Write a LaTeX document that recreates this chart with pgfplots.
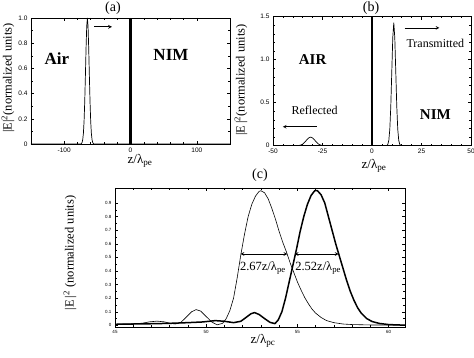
\documentclass[border=0pt]{standalone}
\usepackage{fontspec}
\setmainfont{Liberation Serif}
\newfontfamily\tickfont{Liberation Sans}
\usepackage{pgfplots}
\pgfplotsset{compat=1.18}
\begin{document}
\begin{tikzpicture}
\useasboundingbox (0pt,0pt) rectangle (474pt,-358pt);
\pgfplotsset{
  every axis/.append style={scale only axis, clip mode=individual,
    axis line style={line width=0.9pt},
    every tick/.style={black, line width=0.5pt},
    major tick length=3pt, minor tick length=1.8pt,
    /pgf/number format/assume math mode=true},
}
% ---------------- (a)
\begin{axis}[at={(31pt,-144pt)}, anchor=south west, width=199pt, height=126pt,
  xmin=-150, xmax=150, ymin=0, ymax=1,
  xtick={-100,0,100}, xticklabels={-100,0,100}, minor x tick num=4,
  ytick={0,0.2,0.4,0.6,0.8,1}, yticklabels={0,0.2,0.4,0.6,0.8,1.0}, minor y tick num=1,
  tick label style={font=\tickfont\fontsize{6.5}{7}\selectfont}]
\addplot[black, line width=0.7pt] coordinates {(-150,0)(-75,0)(-74,0.004)(-73,0.012)(-72,0.035)(-71,0.085)(-70,0.18)(-69,0.334)(-68,0.54)(-67,0.76)(-66,0.934)(-65,1)(-64,0.934)(-63,0.76)(-62,0.54)(-61,0.334)(-60,0.18)(-59,0.085)(-58,0.035)(-57,0.012)(-56,0.004)(-55,0)(150,0)};
\addplot[black, line width=2.6pt] coordinates {(0,0)(0,1)};
\draw[->, >=stealth, line width=0.7pt] (axis cs:-55,0.93) -- (axis cs:-28,0.93);
\node[font=\bfseries\fontsize{17}{17}\selectfont] at (axis cs:-111,0.68) {Air};
\node[font=\bfseries\fontsize{17}{17}\selectfont] at (axis cs:61,0.71) {NIM};
\end{axis}
\node[font=\fontsize{14}{14}\selectfont] at (113pt,-8pt) {(a)};
\node[rotate=90, font=\fontsize{12.5}{13}\selectfont] at (8pt,-78pt) {|E|\textsuperscript{2}(normalized units)};
\node[font=\fontsize{13}{13}\selectfont] at (140pt,-161pt) {z/λ\textsubscript{pe}};
% ---------------- (b)
\begin{axis}[at={(273pt,-145.7pt)}, anchor=south west, width=198pt, height=129pt,
  xmin=-50, xmax=50, ymin=0, ymax=1.5,
  xtick={-50,-25,0,25,50}, xticklabels={-50,-25,0,25,50}, minor x tick num=4,
  ytick={0,0.5,1,1.5}, yticklabels={0,0.5,1.0,1.5}, minor y tick num=4,
  tick label style={font=\tickfont\fontsize{6.5}{7}\selectfont}]
\addplot[black, line width=0.7pt] coordinates {(-50,0)(-38,0)(-37,0.0024)(-36,0.0076)(-35,0.0192)(-34,0.0395)(-33,0.0662)(-32,0.0902)(-31,0.1)(-30,0.0902)(-29,0.0662)(-28,0.0395)(-27,0.0192)(-26,0.0076)(-25,0.0024)(-24,0)(7.5,0)(8,0.016)(8.5,0.063)(9,0.194)(9.5,0.464)(10,0.867)(10.5,1.26)(11,1.43)(11.5,1.26)(12,0.867)(12.5,0.464)(13,0.194)(13.5,0.063)(14,0.016)(14.5,0.003)(15,0)(50,0)};
\addplot[black, line width=2.6pt] coordinates {(0,0)(0,1.5)};
\draw[->, >=stealth, line width=0.6pt] (axis cs:16.5,1.37) -- (axis cs:34,1.37);
\draw[->, >=stealth, line width=0.6pt] (axis cs:-28,0.22) -- (axis cs:-45,0.22);
\node[font=\bfseries\fontsize{15}{15}\selectfont] at (axis cs:-30,1.0) {AIR};
\node[font=\bfseries\fontsize{15}{15}\selectfont] at (axis cs:32,0.36) {NIM};
\node[font=\fontsize{12}{12}\selectfont] at (axis cs:32,1.19) {Transmitted};
\node[font=\fontsize{12}{12}\selectfont] at (axis cs:-29,0.41) {Reflected};
\end{axis}
\node[font=\fontsize{14}{14}\selectfont] at (371pt,-8pt) {(b)};
\node[rotate=90, font=\fontsize{12.5}{13}\selectfont] at (241pt,-80pt) {|E\,|\textsuperscript{2}(normalized units)};
\node[font=\fontsize{13}{13}\selectfont] at (374pt,-166pt) {z/λ\textsubscript{pe}};
% ---------------- (c)
\begin{axis}[at={(115pt,-327pt)}, anchor=south west, width=290pt, height=139pt,
  xmin=45, xmax=60.9, ymin=-0.012, ymax=1.01,
  xtick={45,50,55,60}, xticklabels={45,50,55,60}, minor x tick num=4,
  ytick={0,0.1,0.2,0.3,0.4,0.5,0.6,0.7,0.8,0.9}, yticklabels={0,0.1,0.2,0.3,0.4,0.5,0.6,0.7,0.8,0.9}, minor y tick num=1,
  tick label style={font=\tickfont\fontsize{4.5}{5}\selectfont}]
\addplot[black, line width=0.6pt, line join=round] coordinates {(45.0,0.008)(45.5,0.01)(46.0,0.012)(46.5,0.016)(46.9,0.026)(47.3,0.031)(47.7,0.026)(48.0,0.016)(48.3,0.01)(48.6,0.02)(48.9,0.06)(49.2,0.1)(49.45,0.116)(49.7,0.105)(50.0,0.065)(50.3,0.025)(50.6,0.004)(50.9,0.015)(51.1,0.05)(51.3,0.11)(51.5,0.2)(51.7,0.35)(51.9,0.52)(52.1,0.67)(52.3,0.8)(52.5,0.89)(52.7,0.95)(52.9,0.985)(53.0,0.99)(53.2,0.975)(53.4,0.93)(53.6,0.86)(53.8,0.78)(54.0,0.69)(54.2,0.61)(54.4,0.54)(54.6,0.46)(54.8,0.39)(55.0,0.32)(55.2,0.26)(55.4,0.205)(55.6,0.16)(55.8,0.12)(56.0,0.09)(56.3,0.058)(56.6,0.035)(57.0,0.02)(57.5,0.01)(58.0,0.006)(59.0,0.003)(60.0,0.002)(60.9,0.002)};
\addplot[black, line width=1.5pt, line join=round] coordinates {(45.0,0.008)(46.0,0.01)(47.0,0.012)(48.0,0.015)(49.0,0.02)(49.8,0.025)(50.5,0.035)(51.0,0.03)(51.5,0.02)(51.9,0.03)(52.2,0.06)(52.45,0.085)(52.65,0.094)(52.9,0.08)(53.2,0.05)(53.5,0.022)(53.77,0.013)(53.95,0.04)(54.15,0.10)(54.35,0.20)(54.55,0.32)(54.75,0.44)(54.95,0.56)(55.15,0.69)(55.35,0.80)(55.55,0.89)(55.75,0.955)(55.95,0.99)(56.1,0.99)(56.3,0.96)(56.5,0.90)(56.7,0.80)(56.9,0.70)(57.1,0.60)(57.3,0.51)(57.5,0.42)(57.7,0.33)(57.9,0.25)(58.1,0.185)(58.3,0.13)(58.5,0.09)(58.8,0.05)(59.1,0.028)(59.5,0.014)(60.0,0.006)(60.5,0.003)(60.9,0.002)};
\draw[<->, >=stealth, line width=0.7pt] (axis cs:51.88,0.525) -- (axis cs:54.45,0.525);
\draw[<->, >=stealth, line width=0.7pt] (axis cs:54.85,0.525) -- (axis cs:57.26,0.525);
\node[font=\fontsize{12.5}{13}\selectfont] at (axis cs:53.11,0.42) {2.67z/λ\textsubscript{pe}};
\node[font=\fontsize{12.5}{13}\selectfont] at (axis cs:56.14,0.42) {2.52z/λ\textsubscript{pe}};
\end{axis}
\node[font=\fontsize{14}{14}\selectfont] at (260pt,-175pt) {(c)};
\node[rotate=90, font=\fontsize{12.5}{13}\selectfont] at (70pt,-253pt) {|E\,|\textsuperscript{2} (normalized units)};
\node[font=\fontsize{13}{13}\selectfont] at (263pt,-341pt) {z/λ\textsubscript{pc}};
\end{tikzpicture}
\end{document}
